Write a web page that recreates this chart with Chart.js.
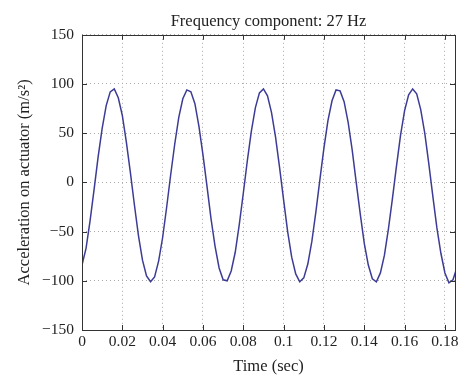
<!DOCTYPE html>
<html>
<head>
<meta charset="utf-8">
<script src="https://cdn.jsdelivr.net/npm/chart.js@4/dist/chart.umd.min.js"></script>
<style>
  html, body { margin: 0; padding: 0; background: #fff; }
  canvas { display: block; }
</style>
</head>
<body>
<canvas id="chart" width="474" height="391"></canvas>
<script>
const chartTitle = 'Frequency component: 27 Hz';
const xTitle = 'Time (sec)';
const yTitle = 'Acceleration on actuator (m/s\u00b2)';

// one sample every 2 ms
const sampleStep = 0.002;
const accel = [
  -84, -67, -39, -7, 26, 55, 78, 92, 95, 86,
  68, 41, 10, -23, -54, -79, -95, -101, -96, -80,
  -56, -25, 8, 39, 66, 85, 94, 92, 80, 57,
  28, -4, -37, -65, -87, -99, -100, -90, -71, -43,
  -11, 22, 52, 76, 91, 95, 88, 71, 46, 15,
  -18, -50, -76, -93, -101, -97, -83, -60, -30, 3,
  35, 63, 83, 94, 93, 82, 61, 33, 0, -32,
  -62, -84, -98, -101, -92, -74, -47, -16, 17, 48,
  73, 89, 95, 90, 74, 50, 19, -14, -46, -72,
  -92, -102, -99, -86
];

const xTicks = [0, 0.02, 0.04, 0.06, 0.08, 0.1, 0.12, 0.14, 0.16, 0.18];
const yTicks = [-150, -100, -50, 0, 50, 100, 150];
const xMax = 0.185;

const points = accel.map((v, i) => ({ x: i * sampleStep, y: v }));

const serif = '"Liberation Serif", "DejaVu Serif", serif';
const textColor = '#222';

// matlab style frame with inward tick marks on all four sides
const boxPlugin = {
  id: 'boxPlugin',
  afterDatasetsDraw(chart) {
    const { ctx, chartArea: a, scales: { x, y } } = chart;
    ctx.save();
    ctx.strokeStyle = '#333';
    ctx.lineWidth = 1;
    ctx.beginPath();
    xTicks.forEach(v => {
      const px = Math.round(x.getPixelForValue(v)) + 0.5;
      ctx.moveTo(px, a.bottom); ctx.lineTo(px, a.bottom - 5);
      ctx.moveTo(px, a.top); ctx.lineTo(px, a.top + 5);
    });
    yTicks.forEach(v => {
      const py = Math.round(y.getPixelForValue(v)) + 0.5;
      ctx.moveTo(a.left, py); ctx.lineTo(a.left + 5, py);
      ctx.moveTo(a.right, py); ctx.lineTo(a.right - 5, py);
    });
    ctx.stroke();
    ctx.strokeRect(Math.round(a.left) + 0.5, Math.round(a.top) + 0.5,
      Math.round(a.right - a.left), Math.round(a.bottom - a.top));
    ctx.restore();
  }
};

const fmt = v => {
  const s = String(Number(v.toFixed(3)));
  return v < 0 ? '\u2212' + s.slice(1) : s;
};

new Chart(document.getElementById('chart').getContext('2d'), {
  type: 'line',
  data: {
    datasets: [{
      data: points,
      borderColor: '#3c3c96',
      borderWidth: 1.5,
      pointRadius: 0,
      tension: 0,
      fill: false
    }]
  },
  options: {
    responsive: false,
    animation: false,
    events: [],
    layout: { padding: { left: 0, right: 19, top: 0, bottom: 0 } },
    plugins: {
      legend: { display: false },
      tooltip: { enabled: false },
      title: {
        display: true,
        text: chartTitle,
        fullSize: false,
        color: textColor,
        font: { family: serif, size: 16.5, weight: 'normal', lineHeight: 1.2 },
        padding: { top: 12, bottom: 3 }
      }
    },
    scales: {
      x: {
        type: 'linear',
        min: 0,
        max: xMax,
        afterBuildTicks: s => { s.ticks = xTicks.map(v => ({ value: v })); },
        afterFit: s => { s.height = 61; },
        grid: { color: '#aaa', lineWidth: 1, drawTicks: false, borderDash: [1, 3] },
        border: { display: false, dash: [1, 3] },
        ticks: {
          color: textColor,
          padding: 3,
          maxRotation: 0,
          autoSkip: false,
          font: { family: serif, size: 15.5 },
          callback: v => fmt(v)
        },
        title: {
          display: true,
          text: xTitle,
          color: textColor,
          font: { family: serif, size: 16.5, lineHeight: 1.2 },
          padding: { top: 0, bottom: 14 }
        }
      },
      y: {
        type: 'linear',
        min: -150,
        max: 150,
        afterBuildTicks: s => { s.ticks = yTicks.map(v => ({ value: v })); },
        afterFit: s => { s.width = 82; },
        grid: { color: '#aaa', lineWidth: 1, drawTicks: false, borderDash: [1, 3] },
        border: { display: false, dash: [1, 3] },
        ticks: {
          color: textColor,
          padding: 8,
          autoSkip: false,
          font: { family: serif, size: 15.5 },
          callback: v => fmt(v)
        },
        title: {
          display: true,
          text: yTitle,
          color: textColor,
          font: { family: serif, size: 16.5, lineHeight: 1.2 },
          padding: { top: 15, bottom: 0 }
        }
      }
    }
  },
  plugins: [boxPlugin]
});
</script>
</body>
</html>
